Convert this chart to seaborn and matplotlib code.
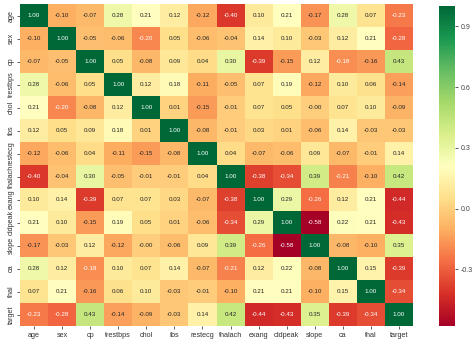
import numpy as np
import pandas as pd
import matplotlib
matplotlib.use("Agg")
import matplotlib.pyplot as plt
import seaborn as sns

labels = ["age", "sex", "cp", "trestbps", "chol", "fbs", "restecg",
          "thalach", "exang", "oldpeak", "slope", "ca", "thal", "target"]

age      = [1.00, -0.10, -0.07, 0.28, 0.21, 0.12, -0.12, -0.40, 0.10, 0.21, -0.17, 0.28, 0.07, -0.23]
sex      = [-0.10, 1.00, -0.05, -0.06, -0.20, 0.05, -0.06, -0.04, 0.14, 0.10, -0.03, 0.12, 0.21, -0.28]
cp       = [-0.07, -0.05, 1.00, 0.05, -0.08, 0.09, 0.04, 0.30, -0.39, -0.15, 0.12, -0.18, -0.16, 0.43]
trestbps = [0.28, -0.06, 0.05, 1.00, 0.12, 0.18, -0.11, -0.05, 0.07, 0.19, -0.12, 0.10, 0.06, -0.14]
chol     = [0.21, -0.20, -0.08, 0.12, 1.00, 0.01, -0.15, -0.01, 0.07, 0.05, -0.00, 0.07, 0.10, -0.09]
fbs      = [0.12, 0.05, 0.09, 0.18, 0.01, 1.00, -0.08, -0.01, 0.03, 0.01, -0.06, 0.14, -0.03, -0.03]
restecg  = [-0.12, -0.06, 0.04, -0.11, -0.15, -0.08, 1.00, 0.04, -0.07, -0.06, 0.09, -0.07, -0.01, 0.14]
thalach  = [-0.40, -0.04, 0.30, -0.05, -0.01, -0.01, 0.04, 1.00, -0.38, -0.34, 0.39, -0.21, -0.10, 0.42]
exang    = [0.10, 0.14, -0.39, 0.07, 0.07, 0.03, -0.07, -0.38, 1.00, 0.29, -0.26, 0.12, 0.21, -0.44]
oldpeak  = [0.21, 0.10, -0.15, 0.19, 0.05, 0.01, -0.06, -0.34, 0.29, 1.00, -0.58, 0.22, 0.21, -0.43]
slope    = [-0.17, -0.03, 0.12, -0.12, -0.00, -0.06, 0.09, 0.39, -0.26, -0.58, 1.00, -0.08, -0.10, 0.35]
ca       = [0.28, 0.12, -0.18, 0.10, 0.07, 0.14, -0.07, -0.21, 0.12, 0.22, -0.08, 1.00, 0.15, -0.39]
thal     = [0.07, 0.21, -0.16, 0.06, 0.10, -0.03, -0.01, -0.10, 0.21, 0.21, -0.10, 0.15, 1.00, -0.34]
target   = [-0.23, -0.28, 0.43, -0.14, -0.09, -0.03, 0.14, 0.42, -0.44, -0.43, 0.35, -0.39, -0.34, 1.00]

rows = [age, sex, cp, trestbps, chol, fbs, restecg, thalach, exang, oldpeak, slope, ca, thal, target]
corr = pd.DataFrame(rows, index=labels, columns=labels)

sns.set_style("white")
plt.rcParams["font.family"] = ["Liberation Sans", "DejaVu Sans"]
plt.rcParams["xtick.major.size"] = 2.5
plt.rcParams["ytick.major.size"] = 2.5
plt.rcParams["xtick.major.width"] = 0.6
plt.rcParams["ytick.major.width"] = 0.6
plt.rcParams["xtick.color"] = "#444444"
plt.rcParams["ytick.color"] = "#444444"
plt.rcParams["xtick.bottom"] = True
plt.rcParams["ytick.left"] = True

W, H = 474, 349
fig = plt.figure(figsize=(W / 100, H / 100), dpi=100)
ax = fig.add_axes([20 / W, 1 - 326 / H, (413 - 20) / W, (326 - 4) / H])
cax = fig.add_axes([439 / W, 1 - 326 / H, 16 / W, (326 - 6) / H])

sns.heatmap(corr, annot=True, fmt=".2f", cmap="RdYlGn", ax=ax, cbar_ax=cax,
            annot_kws={"size": 4.5}, vmin=-0.58, vmax=1.0)

ax.set_xticklabels(labels, rotation=0, fontsize=5.2, color="#333333")
ax.set_yticklabels(labels, rotation=90, fontsize=5.2, color="#333333", va="center")
ax.tick_params(axis="both", pad=1.5)

cax.set_yticks([-0.3, 0.0, 0.3, 0.6, 0.9])
cax.set_yticklabels(["-0.3", "0.0", "0.3", "0.6", "0.9"])
cax.tick_params(labelsize=5, length=2.5, width=0.6, colors="#444444", pad=1.5)

fig.savefig("out.png", dpi=100)
